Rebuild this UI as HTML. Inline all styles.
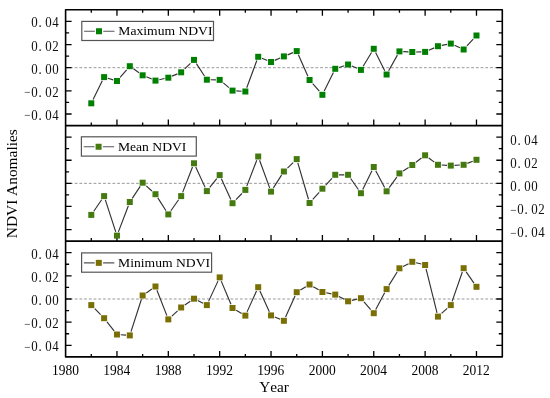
<!DOCTYPE html><html><head><meta charset="utf-8"><style>html,body{margin:0;padding:0;background:#fff;}svg{display:block;}</style></head><body>
<svg width="550" height="398" viewBox="0 0 550 398">
<rect width="550" height="398" fill="#fff"/>
<line x1="65.6" y1="67.7" x2="502.3" y2="67.7" stroke="#999" stroke-width="1" stroke-dasharray="2.8,1.92" stroke-dashoffset="0.34"/>
<line x1="65.6" y1="183.35" x2="502.3" y2="183.35" stroke="#999" stroke-width="1" stroke-dasharray="2.8,1.92" stroke-dashoffset="0.34"/>
<line x1="65.6" y1="299" x2="502.3" y2="299" stroke="#999" stroke-width="1" stroke-dasharray="2.8,1.92" stroke-dashoffset="0.34"/>
<path d="M65.6 114.02h6M502.3 114.02h-6M65.6 102.44h3.5M502.3 102.44h-3.5M65.6 90.86h6M502.3 90.86h-6M65.6 79.28h3.5M502.3 79.28h-3.5M65.6 67.7h6M502.3 67.7h-6M65.6 56.12h3.5M502.3 56.12h-3.5M65.6 44.54h6M502.3 44.54h-6M65.6 32.96h3.5M502.3 32.96h-3.5M65.6 21.38h6M502.3 21.38h-6M91.28 125.6v-3M91.28 9.8v3M116.96 125.6v-6M116.96 9.8v6M142.64 125.6v-3M142.64 9.8v3M168.32 125.6v-6M168.32 9.8v6M194 125.6v-3M194 9.8v3M219.68 125.6v-6M219.68 9.8v6M245.36 125.6v-3M245.36 9.8v3M271.04 125.6v-6M271.04 9.8v6M296.72 125.6v-3M296.72 9.8v3M322.4 125.6v-6M322.4 9.8v6M348.08 125.6v-3M348.08 9.8v3M373.76 125.6v-6M373.76 9.8v6M399.44 125.6v-3M399.44 9.8v3M425.12 125.6v-6M425.12 9.8v6M450.8 125.6v-3M450.8 9.8v3M476.48 125.6v-6M476.48 9.8v6M65.6 229.55h6M502.3 229.55h-6M65.6 218h3.5M502.3 218h-3.5M65.6 206.45h6M502.3 206.45h-6M65.6 194.9h3.5M502.3 194.9h-3.5M65.6 183.35h6M502.3 183.35h-6M65.6 171.8h3.5M502.3 171.8h-3.5M65.6 160.25h6M502.3 160.25h-6M65.6 148.7h3.5M502.3 148.7h-3.5M65.6 137.15h6M502.3 137.15h-6M91.28 241.1v-3M116.96 241.1v-6M142.64 241.1v-3M168.32 241.1v-6M194 241.1v-3M219.68 241.1v-6M245.36 241.1v-3M271.04 241.1v-6M296.72 241.1v-3M322.4 241.1v-6M348.08 241.1v-3M373.76 241.1v-6M399.44 241.1v-3M425.12 241.1v-6M450.8 241.1v-3M476.48 241.1v-6M65.6 345.32h6M502.3 345.32h-6M65.6 333.74h3.5M502.3 333.74h-3.5M65.6 322.16h6M502.3 322.16h-6M65.6 310.58h3.5M502.3 310.58h-3.5M65.6 299h6M502.3 299h-6M65.6 287.42h3.5M502.3 287.42h-3.5M65.6 275.84h6M502.3 275.84h-6M65.6 264.26h3.5M502.3 264.26h-3.5M65.6 252.68h6M502.3 252.68h-6M91.28 356.9v-3M116.96 356.9v-6M142.64 356.9v-3M168.32 356.9v-6M194 356.9v-3M219.68 356.9v-6M245.36 356.9v-3M271.04 356.9v-6M296.72 356.9v-3M322.4 356.9v-6M348.08 356.9v-3M373.76 356.9v-6M399.44 356.9v-3M425.12 356.9v-6M450.8 356.9v-3M476.48 356.9v-6" stroke="#000" stroke-width="1.3" fill="none"/>
<path d="M65.6 9.8H502.3V356.9H65.6Z M65.6 125.6H502.3 M65.6 241.1H502.3" stroke="#000" stroke-width="1.6" fill="none" stroke-linejoin="round"/>
<path d="M93.1 99.58L102.3 80.82M107.89 78.24L113.19 79.86M120.09 77.4L126.67 69.8M133.45 68.79L138.99 72.71M146.38 76.84L151.74 79.06M159.26 79.75L164.54 78.55M172.06 76.13L177.42 73.87M184.74 68.85L190.42 63.35M196.38 63.57L204.46 76.03M210.64 79.76L215.88 79.84M223.29 82.91L228.91 87.59M236.32 90.87L241.56 91.23M246.75 87.75L256.81 60.55M261.94 58.32L267.3 60.48M274.77 60.37L280.15 58.03M287.62 54.86L292.98 52.64M298.38 54.83L307.9 76.27M312.69 83.6L319.27 91.2M324.24 91.08L333.4 72.52M339 67.54L344.32 65.76M351.82 66.07L357.18 68.33M363.16 66.22L371.52 52.48M375.62 52.52L384.74 70.78M388.66 70.8L397.38 55.1M403.24 51.58L408.48 51.82M416.08 51.97L421.32 51.93M428.85 50.24L434.23 47.86M441.74 45.43L447.02 44.37M454.53 45.31L459.91 47.79M466.93 45.91L473.19 39.09" stroke="#333" stroke-width="1.15" fill="none"/>
<rect x="88.28" y="100.3" width="6.0" height="6.0" fill="#008000"/>
<rect x="101.12" y="74.1" width="6.0" height="6.0" fill="#008000"/>
<rect x="113.96" y="78" width="6.0" height="6.0" fill="#008000"/>
<rect x="126.8" y="63.2" width="6.0" height="6.0" fill="#008000"/>
<rect x="139.64" y="72.3" width="6.0" height="6.0" fill="#008000"/>
<rect x="152.48" y="77.6" width="6.0" height="6.0" fill="#008000"/>
<rect x="165.32" y="74.7" width="6.0" height="6.0" fill="#008000"/>
<rect x="178.16" y="69.3" width="6.0" height="6.0" fill="#008000"/>
<rect x="191" y="56.9" width="6.0" height="6.0" fill="#008000"/>
<rect x="203.84" y="76.7" width="6.0" height="6.0" fill="#008000"/>
<rect x="216.68" y="76.9" width="6.0" height="6.0" fill="#008000"/>
<rect x="229.52" y="87.6" width="6.0" height="6.0" fill="#008000"/>
<rect x="242.36" y="88.5" width="6.0" height="6.0" fill="#008000"/>
<rect x="255.2" y="53.8" width="6.0" height="6.0" fill="#008000"/>
<rect x="268.04" y="59" width="6.0" height="6.0" fill="#008000"/>
<rect x="280.88" y="53.4" width="6.0" height="6.0" fill="#008000"/>
<rect x="293.72" y="48.1" width="6.0" height="6.0" fill="#008000"/>
<rect x="306.56" y="77" width="6.0" height="6.0" fill="#008000"/>
<rect x="319.4" y="91.8" width="6.0" height="6.0" fill="#008000"/>
<rect x="332.24" y="65.8" width="6.0" height="6.0" fill="#008000"/>
<rect x="345.08" y="61.5" width="6.0" height="6.0" fill="#008000"/>
<rect x="357.92" y="66.9" width="6.0" height="6.0" fill="#008000"/>
<rect x="370.76" y="45.8" width="6.0" height="6.0" fill="#008000"/>
<rect x="383.6" y="71.5" width="6.0" height="6.0" fill="#008000"/>
<rect x="396.44" y="48.4" width="6.0" height="6.0" fill="#008000"/>
<rect x="409.28" y="49" width="6.0" height="6.0" fill="#008000"/>
<rect x="422.12" y="48.9" width="6.0" height="6.0" fill="#008000"/>
<rect x="434.96" y="43.2" width="6.0" height="6.0" fill="#008000"/>
<rect x="447.8" y="40.6" width="6.0" height="6.0" fill="#008000"/>
<rect x="460.64" y="46.5" width="6.0" height="6.0" fill="#008000"/>
<rect x="473.48" y="32.5" width="6.0" height="6.0" fill="#008000"/>
<path d="M93.78 211.24L101.62 199.76M105.34 199.86L115.74 231.84M118.39 231.85L128.37 205.75M132.24 198.33L140.2 186.37M146.24 185.92L151.88 190.98M157.82 197.88L165.98 210.72M170.88 210.75L178.6 199.75M182.63 192.36L192.53 167.04M195.72 167.03L205.12 187.37M209.75 187.48L216.77 178.72M221.38 178.83L230.82 199.47M235.97 199.62L241.91 193.48M246.8 186.15L256.76 160.25M259.57 160.25L269.67 187.85M273.39 187.93L281.53 175.17M287.46 168.05L293.14 162.55M297.82 162.87L308.46 199.23M312.79 199.4L319.17 192.3M325.71 185.11L331.93 178.39M339.04 174.8L344.28 174.8M350.63 178.46L358.37 189.54M362.74 189.48L371.94 170.72M375.72 170.71L384.64 187.59M389.22 187.65L396.82 177.05M403.11 171L408.61 167.4M415.92 162.25L421.48 158.05M428.76 158L434.32 162.1M441.76 165.04L447 165.36M454.6 165.36L459.84 165.04M467.39 163.34L472.73 161.26" stroke="#333" stroke-width="1.15" fill="none"/>
<rect x="88.28" y="211.9" width="6.0" height="6.0" fill="#447a10"/>
<rect x="101.12" y="193.1" width="6.0" height="6.0" fill="#447a10"/>
<rect x="113.96" y="232.6" width="6.0" height="6.0" fill="#447a10"/>
<rect x="126.8" y="199" width="6.0" height="6.0" fill="#447a10"/>
<rect x="139.64" y="179.7" width="6.0" height="6.0" fill="#447a10"/>
<rect x="152.48" y="191.2" width="6.0" height="6.0" fill="#447a10"/>
<rect x="165.32" y="211.4" width="6.0" height="6.0" fill="#447a10"/>
<rect x="178.16" y="193.1" width="6.0" height="6.0" fill="#447a10"/>
<rect x="191" y="160.3" width="6.0" height="6.0" fill="#447a10"/>
<rect x="203.84" y="188.1" width="6.0" height="6.0" fill="#447a10"/>
<rect x="216.68" y="172.1" width="6.0" height="6.0" fill="#447a10"/>
<rect x="229.52" y="200.2" width="6.0" height="6.0" fill="#447a10"/>
<rect x="242.36" y="186.9" width="6.0" height="6.0" fill="#447a10"/>
<rect x="255.2" y="153.5" width="6.0" height="6.0" fill="#447a10"/>
<rect x="268.04" y="188.6" width="6.0" height="6.0" fill="#447a10"/>
<rect x="280.88" y="168.5" width="6.0" height="6.0" fill="#447a10"/>
<rect x="293.72" y="156.1" width="6.0" height="6.0" fill="#447a10"/>
<rect x="306.56" y="200" width="6.0" height="6.0" fill="#447a10"/>
<rect x="319.4" y="185.7" width="6.0" height="6.0" fill="#447a10"/>
<rect x="332.24" y="171.8" width="6.0" height="6.0" fill="#447a10"/>
<rect x="345.08" y="171.8" width="6.0" height="6.0" fill="#447a10"/>
<rect x="357.92" y="190.2" width="6.0" height="6.0" fill="#447a10"/>
<rect x="370.76" y="164" width="6.0" height="6.0" fill="#447a10"/>
<rect x="383.6" y="188.3" width="6.0" height="6.0" fill="#447a10"/>
<rect x="396.44" y="170.4" width="6.0" height="6.0" fill="#447a10"/>
<rect x="409.28" y="162" width="6.0" height="6.0" fill="#447a10"/>
<rect x="422.12" y="152.3" width="6.0" height="6.0" fill="#447a10"/>
<rect x="434.96" y="161.8" width="6.0" height="6.0" fill="#447a10"/>
<rect x="447.8" y="162.6" width="6.0" height="6.0" fill="#447a10"/>
<rect x="460.64" y="161.8" width="6.0" height="6.0" fill="#447a10"/>
<rect x="473.48" y="156.8" width="6.0" height="6.0" fill="#447a10"/>
<path d="M94.78 308.67L100.62 314.63M106.98 321.83L114.1 330.87M120.76 334.77L126 335.13M131.01 331.64L141.43 299.26M146.3 292.94L151.82 289.06M156.94 290.25L166.86 315.65M171.91 316.08L177.57 310.82M184.82 304.99L190.34 301.21M197.72 300.55L203.12 303.25M208.57 301.37L217.95 281.13M221.25 281.14L230.95 304.26M236.21 310.18L241.67 313.42M247.05 311.87L256.51 290.93M259.9 290.93L269.34 311.67M274.78 316.97L280.14 319.23M285.55 317.07L295.05 295.93M300.41 289.99L305.87 286.71M313.25 286.66L318.71 289.84M326.18 292.77L331.46 293.83M338.95 296.54L344.37 299.36M351.86 300.39L357.14 299.11M364.01 301.81L370.67 309.59M375.73 309.49L384.63 292.81M388.87 285.42L397.17 271.98M403.15 266.42L408.57 263.68M416.06 262.74L421.34 264.06M426.06 268.78L437.02 312.82M441.56 313.38L447.2 308.32M452.11 301.34L462.33 271.96M466.17 271.86L473.95 283.14" stroke="#333" stroke-width="1.15" fill="none"/>
<rect x="88.28" y="302.1" width="6.0" height="6.0" fill="#7a6f05"/>
<rect x="101.12" y="315.2" width="6.0" height="6.0" fill="#7a6f05"/>
<rect x="113.96" y="331.5" width="6.0" height="6.0" fill="#7a6f05"/>
<rect x="126.8" y="332.4" width="6.0" height="6.0" fill="#7a6f05"/>
<rect x="139.64" y="292.5" width="6.0" height="6.0" fill="#7a6f05"/>
<rect x="152.48" y="283.5" width="6.0" height="6.0" fill="#7a6f05"/>
<rect x="165.32" y="316.4" width="6.0" height="6.0" fill="#7a6f05"/>
<rect x="178.16" y="304.5" width="6.0" height="6.0" fill="#7a6f05"/>
<rect x="191" y="295.7" width="6.0" height="6.0" fill="#7a6f05"/>
<rect x="203.84" y="302.1" width="6.0" height="6.0" fill="#7a6f05"/>
<rect x="216.68" y="274.4" width="6.0" height="6.0" fill="#7a6f05"/>
<rect x="229.52" y="305" width="6.0" height="6.0" fill="#7a6f05"/>
<rect x="242.36" y="312.6" width="6.0" height="6.0" fill="#7a6f05"/>
<rect x="255.2" y="284.2" width="6.0" height="6.0" fill="#7a6f05"/>
<rect x="268.04" y="312.4" width="6.0" height="6.0" fill="#7a6f05"/>
<rect x="280.88" y="317.8" width="6.0" height="6.0" fill="#7a6f05"/>
<rect x="293.72" y="289.2" width="6.0" height="6.0" fill="#7a6f05"/>
<rect x="306.56" y="281.5" width="6.0" height="6.0" fill="#7a6f05"/>
<rect x="319.4" y="289" width="6.0" height="6.0" fill="#7a6f05"/>
<rect x="332.24" y="291.6" width="6.0" height="6.0" fill="#7a6f05"/>
<rect x="345.08" y="298.3" width="6.0" height="6.0" fill="#7a6f05"/>
<rect x="357.92" y="295.2" width="6.0" height="6.0" fill="#7a6f05"/>
<rect x="370.76" y="310.2" width="6.0" height="6.0" fill="#7a6f05"/>
<rect x="383.6" y="286.1" width="6.0" height="6.0" fill="#7a6f05"/>
<rect x="396.44" y="265.3" width="6.0" height="6.0" fill="#7a6f05"/>
<rect x="409.28" y="258.8" width="6.0" height="6.0" fill="#7a6f05"/>
<rect x="422.12" y="262" width="6.0" height="6.0" fill="#7a6f05"/>
<rect x="434.96" y="313.6" width="6.0" height="6.0" fill="#7a6f05"/>
<rect x="447.8" y="302.1" width="6.0" height="6.0" fill="#7a6f05"/>
<rect x="460.64" y="265.2" width="6.0" height="6.0" fill="#7a6f05"/>
<rect x="473.48" y="283.8" width="6.0" height="6.0" fill="#7a6f05"/>
<rect x="81.8" y="21.4" width="131.7" height="19.1" fill="#fff" stroke="#555" stroke-width="1.2"/>
<path d="M84.1 31.25H94.9M103.3 31.25H114.5" stroke="#555" stroke-width="1.2"/>
<rect x="96" y="28.25" width="6.0" height="6.0" fill="#008000"/>
<text transform="translate(118.3 35.4) scale(1.01 1)" font-family="Liberation Serif, serif" font-size="13.5" fill="#000" style="font-kerning:none">Maximum NDVI</text>
<rect x="81.4" y="136.8" width="114.9" height="19.3" fill="#fff" stroke="#555" stroke-width="1.2"/>
<path d="M83.7 146.75H94.5M102.9 146.75H114.1" stroke="#555" stroke-width="1.2"/>
<rect x="95.6" y="143.75" width="6.0" height="6.0" fill="#447a10"/>
<text transform="translate(117.9 150.9) scale(1.01 1)" font-family="Liberation Serif, serif" font-size="13.5" fill="#000" style="font-kerning:none">Mean NDVI</text>
<rect x="81.6" y="252.9" width="130" height="19.3" fill="#fff" stroke="#555" stroke-width="1.2"/>
<path d="M83.9 262.85H94.7M103.1 262.85H114.3" stroke="#555" stroke-width="1.2"/>
<rect x="95.8" y="259.85" width="6.0" height="6.0" fill="#7a6f05"/>
<text transform="translate(118.1 267) scale(1.01 1)" font-family="Liberation Serif, serif" font-size="13.5" fill="#000" style="font-kerning:none">Minimum NDVI</text>
<text transform="translate(31.2 27.38) scale(0.94 1)" font-family="Liberation Serif, serif" font-size="13.7" fill="#111"><tspan x="0 7.77 14.89 22.34" y="0">0.04</tspan></text>
<text transform="translate(31.2 50.54) scale(0.94 1)" font-family="Liberation Serif, serif" font-size="13.7" fill="#111"><tspan x="0 7.77 14.89 22.34" y="0">0.02</tspan></text>
<text transform="translate(31.2 73.7) scale(0.94 1)" font-family="Liberation Serif, serif" font-size="13.7" fill="#111"><tspan x="0 7.77 14.89 22.34" y="0">0.00</tspan></text>
<text transform="translate(24.2 96.86) scale(0.94 1)" font-family="Liberation Serif, serif" font-size="13.7" fill="#111"><tspan x="0.11" y="-0.6" font-size="12">−</tspan><tspan x="7.45 15.21 22.34 29.79" y="0">0.02</tspan></text>
<text transform="translate(24.2 120.02) scale(0.94 1)" font-family="Liberation Serif, serif" font-size="13.7" fill="#111"><tspan x="0.11" y="-0.6" font-size="12">−</tspan><tspan x="7.45 15.21 22.34 29.79" y="0">0.04</tspan></text>
<text transform="translate(31.2 258.68) scale(0.94 1)" font-family="Liberation Serif, serif" font-size="13.7" fill="#111"><tspan x="0 7.77 14.89 22.34" y="0">0.04</tspan></text>
<text transform="translate(31.2 281.84) scale(0.94 1)" font-family="Liberation Serif, serif" font-size="13.7" fill="#111"><tspan x="0 7.77 14.89 22.34" y="0">0.02</tspan></text>
<text transform="translate(31.2 305) scale(0.94 1)" font-family="Liberation Serif, serif" font-size="13.7" fill="#111"><tspan x="0 7.77 14.89 22.34" y="0">0.00</tspan></text>
<text transform="translate(24.2 328.16) scale(0.94 1)" font-family="Liberation Serif, serif" font-size="13.7" fill="#111"><tspan x="0.11" y="-0.6" font-size="12">−</tspan><tspan x="7.45 15.21 22.34 29.79" y="0">0.02</tspan></text>
<text transform="translate(24.2 351.32) scale(0.94 1)" font-family="Liberation Serif, serif" font-size="13.7" fill="#111"><tspan x="0.11" y="-0.6" font-size="12">−</tspan><tspan x="7.45 15.21 22.34 29.79" y="0">0.04</tspan></text>
<text transform="translate(510.2 145.05) scale(0.94 1)" font-family="Liberation Serif, serif" font-size="13.7" fill="#111"><tspan x="0 7.77 14.89 22.34" y="0">0.04</tspan></text>
<text transform="translate(510.2 168.15) scale(0.94 1)" font-family="Liberation Serif, serif" font-size="13.7" fill="#111"><tspan x="0 7.77 14.89 22.34" y="0">0.02</tspan></text>
<text transform="translate(510.2 191.25) scale(0.94 1)" font-family="Liberation Serif, serif" font-size="13.7" fill="#111"><tspan x="0 7.77 14.89 22.34" y="0">0.00</tspan></text>
<text transform="translate(510.2 214.35) scale(0.94 1)" font-family="Liberation Serif, serif" font-size="13.7" fill="#111"><tspan x="0.11" y="-0.6" font-size="12">−</tspan><tspan x="7.45 15.21 22.34 29.79" y="0">0.02</tspan></text>
<text transform="translate(510.2 237.45) scale(0.94 1)" font-family="Liberation Serif, serif" font-size="13.7" fill="#111"><tspan x="0.11" y="-0.6" font-size="12">−</tspan><tspan x="7.45 15.21 22.34 29.79" y="0">0.04</tspan></text>
<text transform="translate(65.4 374.8) scale(0.95 1)" text-anchor="middle" font-family="Liberation Serif, serif" font-size="14.2" fill="#000">1980</text>
<text transform="translate(116.76 374.8) scale(0.95 1)" text-anchor="middle" font-family="Liberation Serif, serif" font-size="14.2" fill="#000">1984</text>
<text transform="translate(168.12 374.8) scale(0.95 1)" text-anchor="middle" font-family="Liberation Serif, serif" font-size="14.2" fill="#000">1988</text>
<text transform="translate(219.48 374.8) scale(0.95 1)" text-anchor="middle" font-family="Liberation Serif, serif" font-size="14.2" fill="#000">1992</text>
<text transform="translate(270.84 374.8) scale(0.95 1)" text-anchor="middle" font-family="Liberation Serif, serif" font-size="14.2" fill="#000">1996</text>
<text transform="translate(322.2 374.8) scale(0.95 1)" text-anchor="middle" font-family="Liberation Serif, serif" font-size="14.2" fill="#000">2000</text>
<text transform="translate(373.56 374.8) scale(0.95 1)" text-anchor="middle" font-family="Liberation Serif, serif" font-size="14.2" fill="#000">2004</text>
<text transform="translate(424.92 374.8) scale(0.95 1)" text-anchor="middle" font-family="Liberation Serif, serif" font-size="14.2" fill="#000">2008</text>
<text transform="translate(476.28 374.8) scale(0.95 1)" text-anchor="middle" font-family="Liberation Serif, serif" font-size="14.2" fill="#000">2012</text>
<text x="274.1" y="392.2" text-anchor="middle" font-family="Liberation Serif, serif" font-size="15.3" fill="#000" style="font-kerning:none">Year</text>
<text transform="translate(17.2 183.7) rotate(-90)" text-anchor="middle" font-family="Liberation Serif, serif" font-size="15.4" fill="#000" style="font-kerning:none">NDVI Anomalies</text>
</svg></body></html>
